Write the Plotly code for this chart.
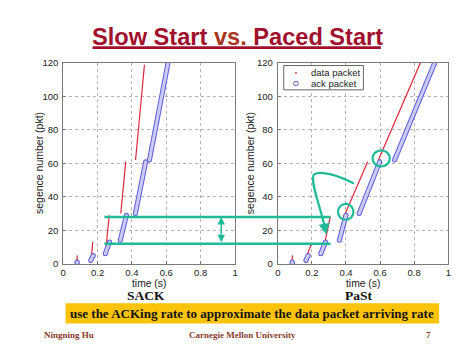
import plotly.graph_objects as go

# ---------------- data ----------------
# Each burst of packets: start / end time (s) and first / last sequence number (pkt)
# SACK (left panel)
sack_data_t_start = [0.080, 0.163, 0.249, 0.335, 0.421]
sack_data_t_end = [0.082, 0.172, 0.268, 0.364, 0.473]
sack_data_seq_start = [1, 3, 10, 30, 62]
sack_data_seq_end = [5, 13, 29, 61, 119]

sack_ack_t_start = [0.080, 0.160, 0.245, 0.332, 0.420, 0.502]
sack_ack_t_end = [0.081, 0.175, 0.270, 0.368, 0.480, 0.610]
sack_ack_seq_start = [0, 2, 6, 14, 30, 62]
sack_ack_seq_end = [1, 5, 13, 29, 61, 120]

# PaSt (right panel)
past_data_t_start = [0.084, 0.168, 0.268, 0.396, 0.590]
past_data_t_end = [0.086, 0.197, 0.308, 0.527, 0.836]
past_data_seq_start = [1, 4, 9, 30, 62]
past_data_seq_end = [5, 12, 28, 61, 120]

past_ack_t_start = [0.084, 0.165, 0.252, 0.361, 0.477, 0.685]
past_ack_t_end = [0.085, 0.178, 0.280, 0.400, 0.598, 0.920]
past_ack_seq_start = [0, 2, 6, 14, 30, 62]
past_ack_seq_end = [1, 5, 13, 29, 61, 120]

x_tick_vals = [0, 0.2, 0.4, 0.6, 0.8, 1]
x_tick_text = ["0", "0.2", "0.4", "0.6", "0.8", "1"]
y_tick_vals = [0, 20, 40, 60, 80, 100, 120]

panel_names = ["SACK", "PaSt"]
title_text = "Slow Start vs. Paced Start"
note_text = "use the ACKing rate to approximate the data packet arriving rate"
footer_left = "Ningning Hu"
footer_mid = "Carnegie Mellon University"
footer_right = "7"

# ---------------- styles ----------------
W, H = 474, 355
RED = "#e0283c"
BLUE = "#5c5cd8"
BLUE_IN = "#cccbf3"
GREEN = "#1fbb98"
TITLE_C = "#a1102c"
FOOT_C = "#8a3a2a"
SANS = "Liberation Sans, Arial, sans-serif"
SERIF = "Liberation Serif, Times New Roman, serif"


def px(x):
    return x / W


def py(y):
    return 1 - y / H


def segments(t0, t1, s0, s1):
    xs, ys = [], []
    for a, b, c, d in zip(t0, t1, s0, s1):
        xs += [a, b, None]
        ys += [c, d, None]
    return xs, ys


fig = go.Figure()

panels = [
    ("x", "y", sack_data_t_start, sack_data_t_end, sack_data_seq_start, sack_data_seq_end,
     sack_ack_t_start, sack_ack_t_end, sack_ack_seq_start, sack_ack_seq_end),
    ("x2", "y2", past_data_t_start, past_data_t_end, past_data_seq_start, past_data_seq_end,
     past_ack_t_start, past_ack_t_end, past_ack_seq_start, past_ack_seq_end),
]
for xa, ya, dt0, dt1, ds0, ds1, at0, at1, as0, as1 in panels:
    dx, dy = segments(dt0, dt1, ds0, ds1)
    fig.add_trace(go.Scatter(x=dx, y=dy, mode="lines", xaxis=xa, yaxis=ya,
                             line=dict(color=RED, width=1.2), showlegend=False,
                             name="data packet"))
    ax_, ay_ = segments(at0, at1, as0, as1)
    fig.add_trace(go.Scatter(x=ax_, y=ay_, mode="lines+markers", xaxis=xa, yaxis=ya,
                             line=dict(color=BLUE, width=5),
                             marker=dict(symbol="circle", size=5, color=BLUE),
                             showlegend=False, name="ack packet"))
    fig.add_trace(go.Scatter(x=ax_, y=ay_, mode="lines+markers", xaxis=xa, yaxis=ya,
                             line=dict(color=BLUE_IN, width=3),
                             marker=dict(symbol="circle", size=3, color=BLUE_IN),
                             showlegend=False, hoverinfo="skip"))

axis_common = dict(
    range=[0, 1], tickvals=x_tick_vals, ticktext=x_tick_text,
    showline=True, mirror=True, linecolor="#7a7a7a", linewidth=1,
    ticks="inside", ticklen=3, tickcolor="#7a7a7a",
    showgrid=True, gridcolor="#b4b4b4", griddash="dot", gridwidth=1,
    zeroline=False, tickfont=dict(family=SANS, size=9.5, color="#222"),
)
yaxis_common = dict(
    range=[0, 120], tickvals=y_tick_vals,
    showline=True, mirror=True, linecolor="#7a7a7a", linewidth=1,
    ticks="inside", ticklen=3, tickcolor="#7a7a7a",
    showgrid=True, gridcolor="#b4b4b4", griddash="dot", gridwidth=1,
    zeroline=False, tickfont=dict(family=SANS, size=9.5, color="#222"),
    ticklabelstandoff=2,
)
ydom = [0.2507, 0.8345]
fig.update_layout(
    width=W, height=H, margin=dict(l=0, r=0, t=0, b=0),
    paper_bgcolor="white", plot_bgcolor="white", showlegend=False,
    xaxis=dict(domain=[px(61), px(235)], anchor="y", **axis_common),
    yaxis=dict(domain=ydom, anchor="x", **yaxis_common),
    xaxis2=dict(domain=[px(278.3), px(451)], anchor="y2", **axis_common),
    yaxis2=dict(domain=ydom, anchor="x2", **yaxis_common),
)

shapes = []
annos = []

# title + underline
annos.append(dict(xref="paper", yref="paper", x=px(237), y=py(32), showarrow=False,
                  text="<b>Slow Start <span style='color:#a8361f'>vs.</span> Paced Start</b>",
                  font=dict(family=SANS, size=23.6, color=TITLE_C), xanchor="center", yanchor="middle"))
shapes.append(dict(type="line", xref="paper", yref="paper", x0=px(90.7), x1=px(382.7),
                   y0=py(43), y1=py(43), line=dict(color=TITLE_C, width=2.6)))

# axis titles
for xa, ya, xt in [("x", "y", -0.137), ("x2", "y2", -0.158)]:
    annos.append(dict(xref=xa + " domain", yref=ya + " domain", x=0.5, y=-0.099,
                      text="time (s)", showarrow=False, xanchor="center", yanchor="middle",
                      font=dict(family=SANS, size=10.3, color="#222")))
    annos.append(dict(xref=xa + " domain", yref=ya + " domain", x=xt, y=0.5,
                      text="segence number (pkt)", showarrow=False, textangle=-90,
                      xanchor="center", yanchor="middle",
                      font=dict(family=SANS, size=10.5, color="#222")))

# legend (right panel)
shapes.append(dict(type="rect", xref="x2 domain", yref="y2 domain", x0=0.035, x1=0.502,
                   y0=0.866, y1=0.987, line=dict(color="#666", width=1), fillcolor="white"))
shapes.append(dict(type="circle", xref="paper", yref="paper",
                   x0=px(296), x1=px(297.4), y0=py(69.7), y1=py(68.3),
                   line=dict(color=RED, width=0.6), fillcolor=RED))
shapes.append(dict(type="circle", xref="paper", yref="paper",
                   x0=px(294.3), x1=px(299.1), y0=py(82.4), y1=py(77.6),
                   line=dict(color=BLUE, width=1), fillcolor="white"))
annos.append(dict(xref="paper", yref="paper", x=px(309.5), y=py(69), text="data packet",
                  showarrow=False, xanchor="left", yanchor="middle",
                  font=dict(family=SANS, size=9.5, color="#222")))
annos.append(dict(xref="paper", yref="paper", x=px(309.5), y=py(80), text="ack packet",
                  showarrow=False, xanchor="left", yanchor="middle",
                  font=dict(family=SANS, size=9.5, color="#222")))

# green guide lines spanning both panels
for lvl in [28, 12]:
    shapes.append(dict(type="line", xref="paper", yref="y", x0=px(102.7), x1=px(331.7),
                       y0=lvl, y1=lvl, line=dict(color=GREEN, width=2.5), layer="above"))
annos.append(dict(xref="x", yref="y", x=0.92, y=28, ax=0.92, ay=12, axref="x", ayref="y",
                  text="", showarrow=True, arrowside="end+start", arrowhead=2, arrowsize=1,
                  arrowwidth=1.5, arrowcolor=GREEN))

# circles on right panel
shapes.append(dict(type="circle", xref="x2", yref="y2", x0=0.353, x1=0.444, y0=26.3, y1=35.8,
                   line=dict(color=GREEN, width=2.2)))
shapes.append(dict(type="circle", xref="x2", yref="y2", x0=0.556, x1=0.657, y0=58.1, y1=67.8,
                   line=dict(color=GREEN, width=2.2)))

# curved double arrow
shapes.append(dict(type="path", xref="x2", yref="y2",
                   path="M 0.276,21.5 C 0.255,33 0.18,51 0.215,53.5 C 0.25,56 0.36,52.5 0.446,48",
                   line=dict(color=GREEN, width=2.2)))
annos.append(dict(xref="x2", yref="y2", x=0.284, y=17.5, ax=0.275, ay=22.5, axref="x2", ayref="y2",
                  text="", showarrow=True, arrowhead=2, arrowsize=1, arrowwidth=2.2,
                  arrowcolor=GREEN))
annos.append(dict(xref="x2", yref="y2", x=0.46, y=47.2, ax=0.44, ay=48.4, axref="x2", ayref="y2",
                  text="", showarrow=True, arrowhead=2, arrowsize=1, arrowwidth=2.2,
                  arrowcolor=GREEN))

# panel captions
for name, cx in zip(panel_names, [145, 361]):
    annos.append(dict(xref="paper", yref="paper", x=px(cx), y=py(298.5), text="<b>%s</b>" % name,
                      showarrow=False, xanchor="center", yanchor="middle",
                      font=dict(family=SERIF, size=13.5, color="#111")))

# yellow note
shapes.append(dict(type="rect", xref="paper", yref="paper", x0=px(63.3), x1=px(441.7),
                   y0=py(327.7), y1=py(306.7), fillcolor="#fcc30b", line=dict(width=0),
                   layer="below"))
annos.append(dict(xref="paper", yref="paper", x=px(251.7), y=py(317.2), text="<b>%s</b>" % note_text,
                  showarrow=False, xanchor="center", yanchor="middle",
                  font=dict(family=SERIF, size=13, color="#141414")))

# footer
annos.append(dict(xref="paper", yref="paper", x=px(40), y=py(340), text="<b>%s</b>" % footer_left,
                  showarrow=False, xanchor="left", yanchor="middle",
                  font=dict(family=SERIF, size=9, color=FOOT_C)))
annos.append(dict(xref="paper", yref="paper", x=px(242.5), y=py(340), text="<b>%s</b>" % footer_mid,
                  showarrow=False, xanchor="center", yanchor="middle",
                  font=dict(family=SERIF, size=9, color=FOOT_C)))
annos.append(dict(xref="paper", yref="paper", x=px(431), y=py(340), text="<b>%s</b>" % footer_right,
                  showarrow=False, xanchor="center", yanchor="middle",
                  font=dict(family=SERIF, size=9, color=FOOT_C)))

fig.update_layout(shapes=shapes, annotations=annos)
fig.write_html("out.html", config={"displayModeBar": False},
               post_script="document.body.style.margin='0px';")
